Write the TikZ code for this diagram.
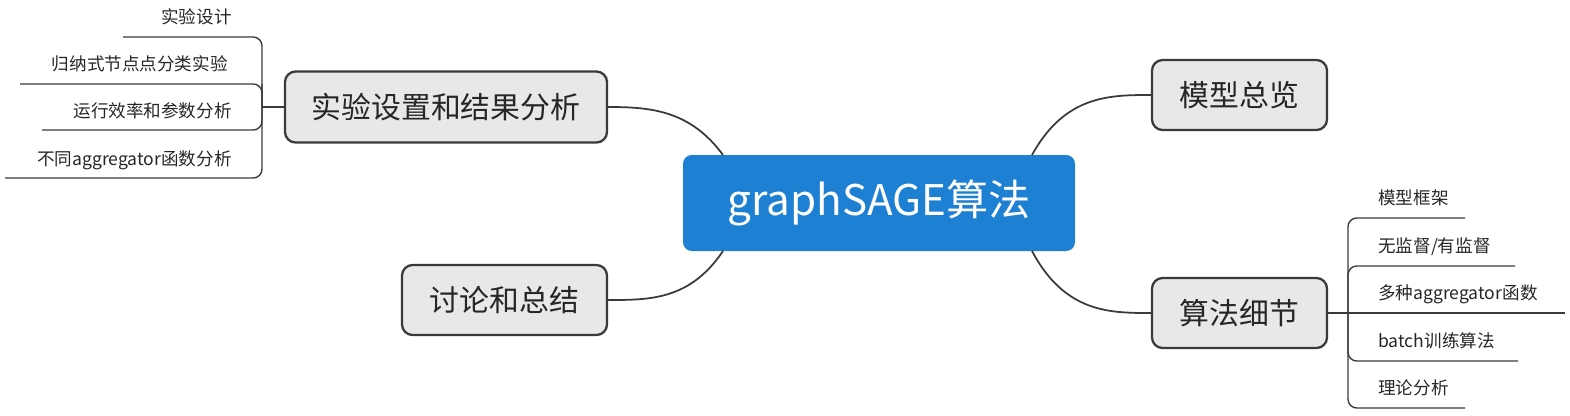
\documentclass[tikz,border=0pt]{standalone}
\usepackage{fontspec}
\setmainfont{Noto Sans CJK SC}
\definecolor{mainblue}{HTML}{1E80D2}
\definecolor{boxgray}{HTML}{E8E8E8}
\definecolor{linegray}{HTML}{3A3A3A}
\begin{document}
\begin{tikzpicture}[x=0.02cm,y=-0.02cm,
  topic/.style={draw=linegray,line width=1.3pt,fill=boxgray,rounded corners=6pt,inner sep=0pt,font=\fontsize{17}{20}\selectfont,text=black!85},
  leaf/.style={font=\fontsize{10}{12}\selectfont,text=black!85,inner sep=0pt},
  conn/.style={draw=linegray,line width=1pt},
  br/.style={draw=linegray,line width=0.8pt,rounded corners=5pt}]
\useasboundingbox (0,0) rectangle (1570,416);
\node[fill=mainblue,rounded corners=5pt,minimum width=392*0.02cm,minimum height=96*0.02cm,text=white,font=\fontsize{24}{28}\selectfont] (c) at (879,203) {graphSAGE算法};
\node[topic,minimum width=322*0.02cm,minimum height=71*0.02cm] (a) at (446,107) {实验设置和结果分析};
\node[topic,minimum width=205*0.02cm,minimum height=70*0.02cm] (d) at (504.5,300) {讨论和总结};
\node[topic,minimum width=175*0.02cm,minimum height=70*0.02cm] (m) at (1239.5,95) {模型总览};
\node[topic,minimum width=175*0.02cm,minimum height=70*0.02cm] (s) at (1239.5,313) {算法细节};
\coordinate (c1) at (723,155); \coordinate (c2) at (1032,155);
\coordinate (c3) at (723,251); \coordinate (c4) at (1032,251);
\draw[conn] (c1) .. controls (690,110) and (650,107) .. (a.east);
\draw[conn] (c3) .. controls (690,300) and (650,300) .. (d.east);
\draw[conn] (c2) .. controls (1065,95) and (1110,95) .. (m.west);
\draw[conn] (c4) .. controls (1065,313) and (1110,313) .. (s.west);
% left leaves
\coordinate (lj) at (262,107);
\draw[br] (a.west) -- (lj);
\node[leaf,anchor=base east] (l1) at (232,23) {实验设计};
\node[leaf,anchor=base east] (l2) at (228,70) {归纳式节点点分类实验};
\node[leaf,anchor=base east] (l3) at (232,117) {运行效率和参数分析};
\node[leaf,anchor=base east] (l4) at (232,165) {不同aggregator函数分析};
\coordinate (e1) at (123,37); \coordinate (e2) at (20,84);
\coordinate (e3) at (42,130); \coordinate (e4) at (5,178);
\draw[br] (lj) |- (e1);
\draw[br] (lj) |- (e2);
\draw[br] (262,84) |- (e3);
\draw[br] (lj) |- (e4);
% right leaves
\coordinate (rj) at (1348,313);
\draw[br] (s.east) -- (rj);
\node[leaf,anchor=base west] (r1) at (1378,204) {模型框架};
\node[leaf,anchor=base west] (r2) at (1378,252) {无监督/有监督};
\node[leaf,anchor=base west] (r3) at (1378,299) {多种aggregator函数};
\node[leaf,anchor=base west] (r4) at (1378,347) {batch训练算法};
\node[leaf,anchor=base west] (r5) at (1378,394) {理论分析};
\coordinate (f1) at (1465,218); \coordinate (f2) at (1515,266);
\coordinate (f3) at (1565,313); \coordinate (f4) at (1518,361);
\coordinate (f5) at (1465,408);
\draw[br] (rj) |- (f1);
\draw[br] (rj) |- (f2);
\draw[br] (rj) -- (f3);
\draw[br] (rj) |- (f4);
\draw[br] (rj) |- (f5);
\end{tikzpicture}
\end{document}
